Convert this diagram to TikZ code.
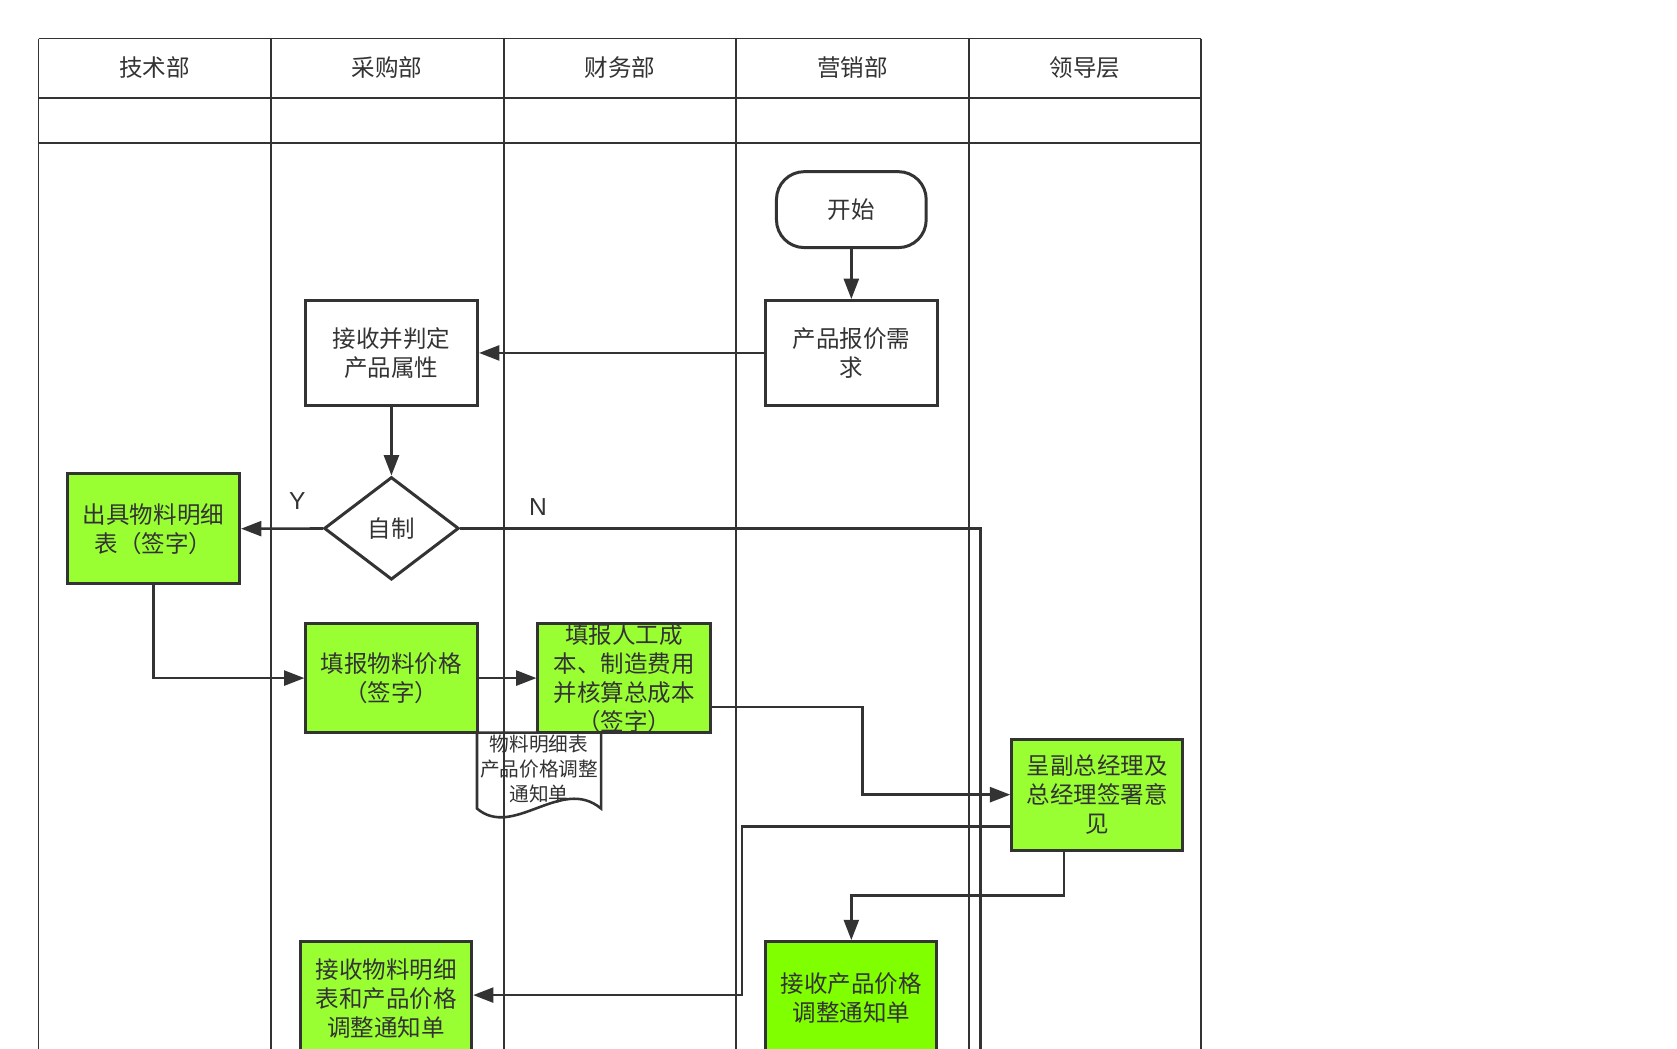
\documentclass[tikz,border=0pt]{standalone}
\usepackage{fontspec}
\newfontfamily\cjk{Noto Sans CJK SC}
\newfontfamily\latn{Liberation Sans}
\usetikzlibrary{shapes.geometric,arrows.meta,calc}
\definecolor{ln}{HTML}{333333}
\definecolor{gA}{HTML}{99FF33}
\definecolor{gB}{HTML}{80FF00}
\begin{document}
\begin{tikzpicture}[x=0.5pt,y=-0.5pt,
  every node/.style={font=\cjk\fontsize{11pt}{13.5pt}\selectfont, text=ln},
  grid/.style={draw=ln, line width=0.85pt},
  box/.style={draw=ln, line width=1.4pt, rectangle, minimum width=80.5pt, minimum height=49pt, inner sep=0pt, align=center},
  gbox/.style={box, fill=gA},
  conn/.style={draw=ln, line width=1.2pt},
  arr/.style={conn, -{Triangle[length=9.5pt,width=7pt]}},
  lbl/.style={font=\latn\fontsize{11.5pt}{13pt}\selectfont},
  doctext/.style={font=\cjk\fontsize{9.2pt}{11.5pt}\selectfont, align=center}
]
\useasboundingbox[fill=white] (0,0) rectangle (1568,980);

% swimlane table
\foreach \x in {36,253,471,688,906,1123} \draw[grid] (\x,36) -- (\x,1000);
\foreach \y in {36,92,134} \draw[grid] (36,\y) -- (1123,\y);
\node (h1) at (144.5,63) {技术部};
\node (h2) at (362,63) {采购部};
\node (h3) at (579.5,63) {财务部};
\node (h4) at (797,63) {营销部};
\node (h5) at (1014.5,63) {领导层};

% nodes
\node[box, rounded corners=13pt, minimum width=70pt, minimum height=35.5pt] (start) at (796,196) {开始};
\node[box] (q) at (796,330) {产品报价需\\求};
\node[box] (recv) at (366,330) {接收并判定\\产品属性};
\node[draw=ln, line width=1.4pt, diamond, minimum width=63pt, minimum height=48pt, inner sep=0pt] (dia) at (366,494) {自制};
\node[gbox, minimum height=51.5pt] (out) at (143.5,494.5) {出具物料明细\\表（签字）};
\node[gbox, minimum width=80pt, minimum height=51pt] (fill1) at (366,634) {填报物料价格\\（签字）};
\node[gbox, minimum height=51pt] (fill2) at (583.5,634) {填报人工成\\本、制造费用\\并核算总成本\\（签字）};
\node[gbox, minimum width=80pt, minimum height=52pt] (lead) at (1026,743) {呈副总经理及\\总经理签署意\\见};
\node[gbox, minimum width=80pt, minimum height=53pt, anchor=north] (recvmat) at (361,879) {接收物料明细\\表和产品价格\\调整通知单};
\node[box, fill=gB, minimum width=80pt, minimum height=53pt, anchor=north] (recvprice) at (796,879) {接收产品价格\\调整通知单};

% document shape
\draw[draw=ln, line width=1.2pt] (446,685) -- (446,756) .. controls (480,785) and (525,725) .. (562,756) -- (562,685) -- cycle;
\node[doctext] (doc) at (504,719) {物料明细表\\产品价格调整\\通知单};

% labels
\node[lbl] (ly) at (278,468) {Y};
\node[lbl] (ln) at (503,474) {N};

% connectors
\coordinate (nend) at (917,1000);
\draw[arr] (start) -- (q);
\draw[arr] (q) -- (recv);
\draw[arr] (recv) -- (dia);
\draw[arr] (dia) -- (out);
\draw[conn] (dia.east) -| (nend);
\draw[arr] (out.south) |- (fill1.west);
\draw[arr] (fill1) -- (fill2);
\draw[arr] ($(fill2.east)+(0,27)$) -- ++(141,0) |- (lead.west);
\draw[arr] ($(lead.west)+(0,30)$) -- ++(-251,0) |- ([yshift=1.5pt]recvmat.east);
\draw[arr] ($(lead.south)+(-31,0)$) -- ++(0,41) -| (recvprice.north);
\end{tikzpicture}
\end{document}
